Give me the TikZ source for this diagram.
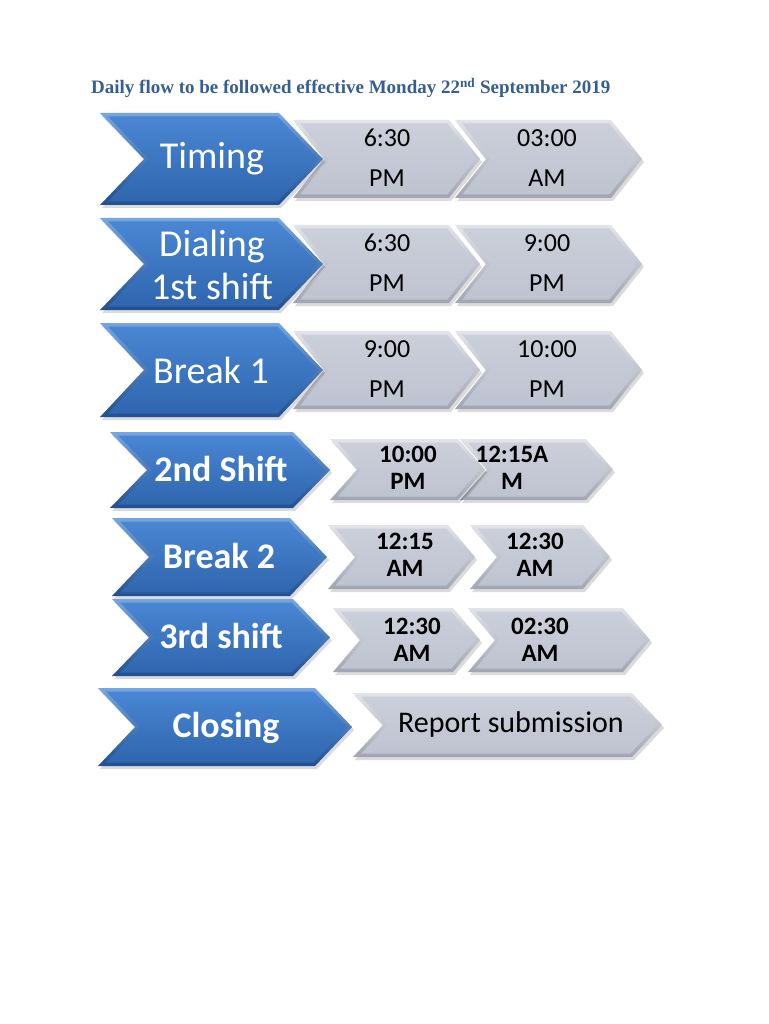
\documentclass[tikz,border=0pt]{standalone}
\usepackage{fontspec}
\setmainfont{Carlito}
\newfontfamily\titlefont{Liberation Serif}
\definecolor{blueT}{HTML}{4A86D3}
\definecolor{blueB}{HTML}{2F66AE}
\definecolor{blueHi}{HTML}{74A6E2}
\definecolor{blueLo}{HTML}{214F90}
\definecolor{grayT}{HTML}{CBCFDA}
\definecolor{grayB}{HTML}{BEC3D0}
\definecolor{grayHi}{HTML}{E2E4EA}
\definecolor{grayLo}{HTML}{A0A5B1}
\definecolor{titleblue}{HTML}{365F91}
% #1 x-left, #2 x-tip, #3 y-top, #4 y-bottom, #5 depth, #6 colour kind
\newcommand{\chevshape}[6]{%
  \pgfmathsetmacro{\cym}{(#3+#4)/2}%
  \pgfmathsetmacro{\chh}{(#4-#3)/2}%
  \pgfmathsetmacro{\ck}{sqrt((#5)*(#5)+\chh*\chh)/\chh}%
  \pgfmathsetmacro{\cs}{(#5)/\chh}%
  \pgfmathsetmacro{\ce}{3.5}%
  \fill[black,opacity=0.14] ({#1+2},{#3+3}) -- ({#2-#5+2},{#3+3}) -- ({#2+2},{\cym+3}) -- ({#2-#5+2},{#4+3}) -- ({#1+2},{#4+3}) -- ({#1+#5+2},{\cym+3}) -- cycle;
  \shade[top color=#6Hi, bottom color=#6Lo] (#1,#3) -- ({#2-#5},#3) -- (#2,\cym) -- ({#2-#5},#4) -- (#1,#4) -- ({#1+#5},\cym) -- cycle;
  \shade[top color=#6T, bottom color=#6B]
    ({#1+\ck*\ce+\cs*\ce},{#3+\ce}) -- ({#2-#5-\ck*\ce+\cs*\ce},{#3+\ce}) -- ({#2-\ck*\ce},\cym)
    -- ({#2-#5-\ck*\ce+\cs*\ce},{#4-\ce}) -- ({#1+\ck*\ce+\cs*\ce},{#4-\ce}) -- ({#1+#5+\ck*\ce},\cym) -- cycle;
}
\tikzset{
  bluetxt/.style={text=white, align=center, inner sep=0pt, font=\fontsize{38}{43}\selectfont},
  bluebold/.style={text=white, align=center, inner sep=0pt, font=\bfseries\fontsize{36}{40}\selectfont},
  graytxt/.style={text=black, align=center, inner sep=0pt, font=\fontsize{26}{40}\selectfont},
  graybold/.style={text=black, align=center, inner sep=0pt, font=\bfseries\fontsize{25}{27}\selectfont},
  grayreg/.style={text=black, align=center, inner sep=0pt, font=\fontsize{30}{34}\selectfont},
}
\begin{document}
\begin{tikzpicture}[x=1pt,y=-1pt]
\useasboundingbox (0,0) rectangle (768,1024);
\fill[white] (0,0) rectangle (768,1024);
\node[anchor=west, inner sep=0pt, text=titleblue, font=\titlefont\bfseries\fontsize{19}{21}\selectfont] (title) at (91,88) {Daily flow to be followed effective Monday 22\textsuperscript{nd} September 2019};
% row 1
\chevshape{455}{642}{120}{198}{31}{gray}
\chevshape{293}{480}{120}{198}{31}{gray}
\chevshape{100}{323}{113}{205}{44}{blue}
\node[bluetxt] (r1a) at (212,159) {Timing};
\node[graytxt] (r1b) at (387,158) {6:30\\PM};
\node[graytxt] (r1c) at (547,158) {03:00\\AM};
% row 2
\chevshape{455}{642}{225}{303}{31}{gray}
\chevshape{293}{480}{225}{303}{31}{gray}
\chevshape{100}{323}{218}{310}{44}{blue}
\node[bluetxt] (r2a) at (212,265) {Dialing\\1st shift};
\node[graytxt] (r2b) at (387,263) {6:30\\PM};
\node[graytxt] (r2c) at (547,263) {9:00\\PM};
% row 3
\chevshape{455}{642}{331}{409}{31}{gray}
\chevshape{293}{480}{331}{409}{31}{gray}
\chevshape{100}{323}{323}{417}{44}{blue}
\node[bluetxt] (r3a) at (211,370) {Break 1};
\node[graytxt] (r3b) at (387,369) {9:00\\PM};
\node[graytxt] (r3c) at (547,369) {10:00\\PM};
% row 4
\chevshape{460}{613}{439}{500}{27}{gray}
\chevshape{330}{485}{439}{500}{27}{gray}
\chevshape{110}{330}{432}{508}{37}{blue}
\node[bluebold] (r4a) at (221,469) {2nd Shift};
\node[graybold] (r4b) at (408,468) {10:00\\PM};
\node[graybold] (r4c) at (512,468) {12:15A\\M};
% row 5
\chevshape{470}{610}{525}{589}{27}{gray}
\chevshape{328}{475}{525}{589}{27}{gray}
\chevshape{112}{327}{518}{596}{37}{blue}
\node[bluebold] (r5a) at (219,556) {Break 2};
\node[graybold] (r5b) at (405,555) {12:15\\AM};
\node[graybold] (r5c) at (535,555) {12:30\\AM};
% row 6
\chevshape{468}{650}{608}{672}{27}{gray}
\chevshape{333}{480}{608}{672}{27}{gray}
\chevshape{112}{330}{599}{676}{37}{blue}
\node[bluebold] (r6a) at (221,636) {3rd shift};
\node[graybold] (r6b) at (412,640) {12:30\\AM};
\node[graybold] (r6c) at (540,640) {02:30\\AM};
% row 7
\chevshape{353}{662}{693}{757}{30}{gray}
\chevshape{98}{352}{688}{766}{37}{blue}
\node[bluebold] (r7a) at (226,728) {Closing};
\node[grayreg] (r7b) at (511,724) {Report submission};
\end{tikzpicture}
\end{document}
